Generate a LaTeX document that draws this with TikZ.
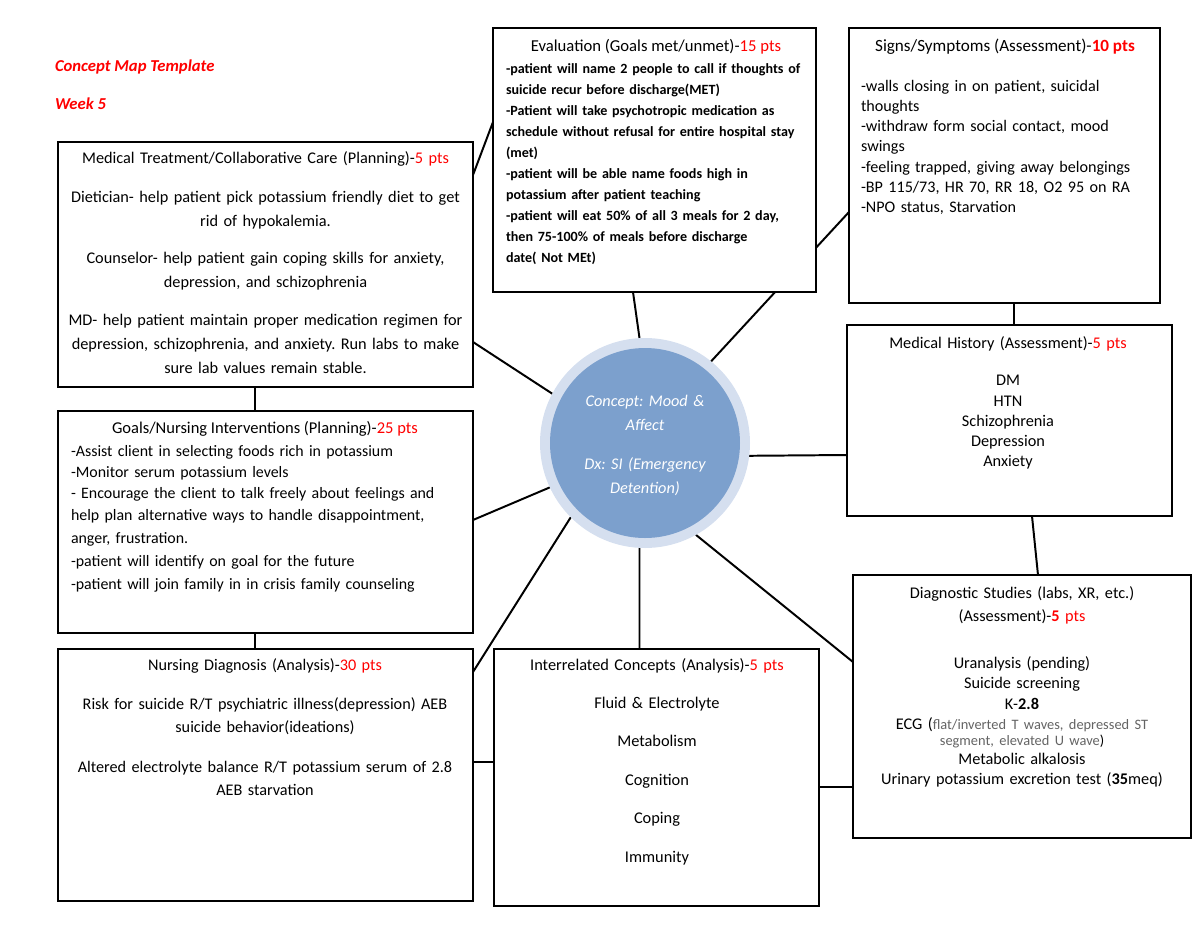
\documentclass[tikz,border=0pt]{standalone}
\usepackage{fontspec}
\setmainfont{Carlito}
\usetikzlibrary{calc,backgrounds}
\definecolor{ptred}{RGB}{255,0,0}
\definecolor{ringblue}{RGB}{213,223,239}
\definecolor{coreblue}{RGB}{124,160,205}
\definecolor{ecggray}{RGB}{100,100,100}
\newcommand\pts[1]{\textcolor{ptred}{#1}}
\newcommand\mapbox[5]{\node[boxst, anchor=north west, minimum width={(#4-#2)*0.66pt}, minimum height={(#5-#3)*0.66pt}] (#1) at (#2,#3) {};}
\frenchspacing
\begin{document}
\begin{tikzpicture}[x=0.66pt,y=-0.66pt,
  boxst/.style={draw=black, line width=1.3pt, fill=white, inner sep=0pt, outer sep=0pt, rectangle},
  link/.style={draw=black, line width=1.3pt},
  txt/.style={inner sep=0pt, outer sep=0pt, anchor=base, align=center},
  ltxt/.style={inner sep=0pt, outer sep=0pt, anchor=base west, align=left}]
\useasboundingbox (0,0) rectangle (1200,927);

% header
\node[ltxt, font=\fontsize{11}{13}\selectfont\bfseries\itshape, text=ptred] (hd1) at (55,71) {Concept Map Template};
\node[ltxt, font=\fontsize{11}{13}\selectfont\bfseries\itshape, text=ptred] (hd2) at (55,109) {Week 5};

% boxes
\mapbox{mt}{58}{142}{473}{387}
\mapbox{ev}{493}{28}{816}{292}
\mapbox{ss}{849}{28}{1160}{303}
\mapbox{mh}{847}{325}{1172}{516}
\mapbox{gn}{58}{411}{473}{633}
\mapbox{nd}{58}{649}{473}{901}
\mapbox{ic}{494}{649}{819}{906}
\mapbox{ds}{853}{575}{1191}{838}

% central concept
\node[circle, fill=ringblue, minimum size={210*0.66pt}, inner sep=0pt, outer sep=0pt] (ring) at (645,443) {};
\node[circle, fill=coreblue, minimum size={190*0.66pt}, inner sep=0pt, outer sep=0pt] (core) at (ring.center) {};
\node[txt, text width={180*0.66pt}, text=white, font=\fontsize{10.75}{15.84}\selectfont\itshape] (coret) at (645,406)
  {Concept: Mood \&\\ Affect\\[9.9pt] Dx: SI (Emergency\\ Detention)};

% connectors
\begin{scope}[on background layer]
\draw[link] ($(mt.north east)+(0,33)$) -- ($(ev.north west)+(0,94)$);
\draw[link] ($(mt.north east)+(0,200)$) -- (ring.152);
\draw[link] ($(ev.south west)+(140,0)$) -- (ring.93);
\draw[link] ($(ss.north west)+(0,184)$) -- (ring.51);
\draw[link] ($(ss.south west)+(165,0)$) -- ($(mh.north west)+(167,0)$);
\draw[link] ($(mh.north west)+(0,130)$) -- (ring.-7);
\draw[link] ($(mh.south west)+(185,0)$) -- ($(ds.north west)+(185,0)$);
\draw[link] ($(ds.north west)+(0,87)$) -- (ring.-61);
\draw[link] (ring.-93) -- ($(ic.north west)+(145.5,0)$);
\draw[link] (ring.225) -- ($(nd.north east)+(0,23)$);
\draw[link] (ring.205) -- ($(gn.north east)+(0,109)$);
\draw[link] ($(mt.south west)+(197,0)$) -- ($(gn.north west)+(197,0)$);
\draw[link] ($(gn.south west)+(197,0)$) -- ($(nd.north west)+(197,0)$);
\draw[link] ($(nd.north east)+(0,113)$) -- ($(ic.north west)+(0,113)$);
\draw[link] ($(ic.north east)+(0,138)$) -- ($(ds.north west)+(0,212)$);
\end{scope}

% Medical treatment
\node[txt, text width={460*0.66pt}, font=\fontsize{10.75}{15.84}\selectfont] (mtt) at (265.5,163)
  {Medical Treatment/Collaborative Care (Planning)-\pts{5 pts}\\[9.9pt]
   Dietician- help patient pick potassium friendly diet to get\\ rid of hypokalemia.\\[9.2pt]
   Counselor- help patient gain coping skills for anxiety,\\ depression, and schizophrenia\\[9.2pt]
   MD- help patient maintain proper medication regimen for\\ depression, schizophrenia, and anxiety. Run labs to make\\ sure lab values remain stable.};

% Evaluation
\node[txt, font=\fontsize{11}{13.9}\selectfont] (evt) at (656,51) {Evaluation (Goals met/unmet)-\pts{15 pts}};
\node[ltxt, text width={420*0.66pt}, font=\fontsize{9.3}{13.93}\selectfont\bfseries] (evb) at (506,73)
  {-patient will name 2 people to call if thoughts of\\
   suicide recur before discharge(MET)\\
   -Patient will take psychotropic medication as\\
   schedule without refusal for entire hospital stay\\
   (met)\\
   -patient will be able name foods high in\\
   potassium after patient teaching\\
   -patient will eat 50\% of all 3 meals for 2 day,\\
   then 75-100\% of meals before discharge\\
   date( Not MEt)};

% Signs / symptoms
\node[txt, font=\fontsize{11.3}{14}\selectfont] (sst) at (1005,51) {Signs/Symptoms (Assessment)-\pts{\bfseries 10 pts}};
\node[ltxt, text width={400*0.66pt}, font=\fontsize{10.65}{13.4}\selectfont] (ssb) at (861,91)
  {-walls closing in on patient, suicidal\\
   thoughts\\
   -withdraw form social contact, mood\\
   swings\\
   -feeling trapped, giving away belongings\\
   -BP 115/73, HR 70, RR 18, O2 95 on RA\\
   -NPO status, Starvation};

% Medical history
\node[txt, text width={320*0.66pt}, font=\fontsize{10.75}{13.33}\selectfont] (mht) at (1008,348)
  {Medical History (Assessment)-\pts{5 pts}\\[11.7pt] DM\\ HTN\\ Schizophrenia\\ Depression\\ Anxiety};

% Goals / nursing interventions
\node[txt, font=\fontsize{10.9}{13.9}\selectfont] (gnt) at (265,433) {Goals/Nursing Interventions (Planning)-\pts{25 pts}};
\node[ltxt, text width={500*0.66pt}, font=\fontsize{10.5}{13.86}\selectfont] (gnb) at (71,456)
  {-Assist client in selecting foods rich in potassium\\
   -Monitor serum potassium levels\\
   - Encourage the client to talk freely about feelings and\\[1.3pt]
   help plan alternative ways to handle disappointment,\\[1.3pt]
   anger, frustration.\\[1.3pt]
   -patient will identify on goal for the future\\[1.3pt]
   -patient will join family in in crisis family counseling};

% Nursing diagnosis
\node[txt, text width={460*0.66pt}, font=\fontsize{10.7}{15.18}\selectfont] (ndt) at (265,670)
  {Nursing Diagnosis (Analysis)-\pts{30 pts}\\[10.6pt]
   Risk for suicide R/T psychiatric illness(depression) AEB\\ suicide behavior(ideations)\\[11.2pt]
   Altered electrolyte balance R/T potassium serum of 2.8\\ AEB starvation};

% Interrelated concepts
\node[txt, text width={320*0.66pt}, font=\fontsize{10.8}{25.4}\selectfont] (ict) at (657,670)
  {Interrelated Concepts (Analysis)-\pts{5 pts}\\ Fluid \& Electrolyte\\ Metabolism\\ Cognition\\ Coping\\ Immunity};

% Diagnostic studies
\node[txt, text width={380*0.66pt}, font=\fontsize{10.75}{13.2}\selectfont] (dst) at (1022,598)
  {Diagnostic Studies (labs, XR, etc.)\\[2pt]
   (Assessment)-\pts{\bfseries 5} \pts{pts}\\[17.8pt]
   Uranalysis (pending)\\
   Suicide screening\\[1.3pt]
   K-\textbf{2.8}\\
   ECG ({\color{ecggray}\fontsize{9.5}{10}\selectfont flat/inverted T waves, depressed ST}\\[-2.64pt]
   {\color{ecggray}\fontsize{9.5}{10}\selectfont segment, elevated U wave}{\fontsize{9.5}{10}\selectfont)}\\[-0.66pt]
   Metabolic alkalosis\\
   Urinary potassium excretion test (\textbf{35}meq)};
\end{tikzpicture}
\end{document}
